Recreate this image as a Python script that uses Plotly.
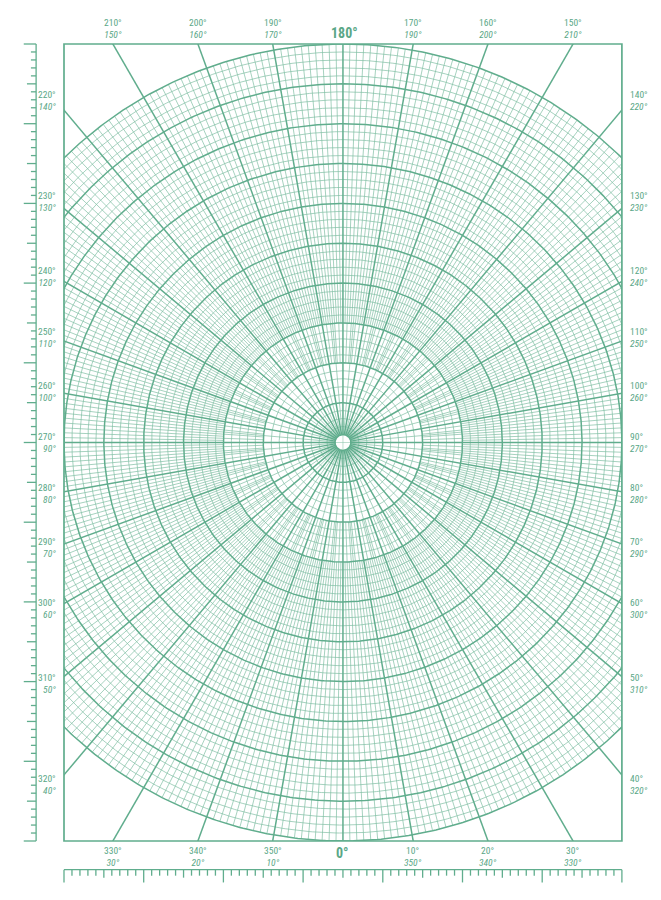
import numpy as np
import plotly.graph_objects as go

# --- grid paper values (mm) ---
MAJOR_RINGS = [5, 10, 15, 20, 25, 30, 35, 40, 45, 50]
MINOR_RING_STEP = 1
OUTER_R = 50
HUB_R = 1
# (start radius, angle step in degrees) for the spoke density zones
SPOKE_ZONES = [(1, 5), (10, 2), (15, 1)]
BOLD_SPOKE_STEP = 10
LABEL_ANGLES = [10, 20, 30, 40, 50, 60, 70, 80, 90, 100, 110, 120, 130, 140, 150, 160, 170,
                190, 200, 210, 220, 230, 240, 250, 260, 270, 280, 290, 300, 310, 320, 330, 340, 350]
LEFT_RULER_UNITS = list(range(0, 101))
BOTTOM_RULER_UNITS = list(range(0, 71))

# --- page geometry ---
W, H = 661, 900
PAGE_SHIFT = 8                # browser body margin
S = 7.97                      # px per mm
FRAME_L, FRAME_T = 64 - PAGE_SHIFT, 44 - PAGE_SHIFT   # px inside the plot div
FRAME_W, FRAME_H = 70, 100    # mm
cx_px = FRAME_L + FRAME_W / 2 * S
cy_px = FRAME_T + FRAME_H / 2 * S

BOLD = '#60ad8d'
THIN = '#7fbfa3'
TEXT = '#5aa787'


def rad(a):
    return np.radians(a)


def spokes(items):
    xs, ys = [], []
    for a, r0, r1 in items:
        t = rad(a)
        xs += [r0 * np.sin(t), r1 * np.sin(t), None]
        ys += [-r0 * np.cos(t), -r1 * np.cos(t), None]
    return xs, ys


def rings(radii):
    th = np.linspace(0, 2 * np.pi, 721)
    xs, ys = [], []
    for r in radii:
        xs += list(r * np.sin(th)) + [None]
        ys += list(r * np.cos(th)) + [None]
    return xs, ys


minor_radii = [r for r in range(HUB_R + 1, OUTER_R, MINOR_RING_STEP) if r not in MAJOR_RINGS]

thin_items = []
for a in range(360):
    if a % BOLD_SPOKE_STEP == 0:
        continue
    starts = [r0 for r0, step in SPOKE_ZONES if a % step == 0]
    if starts:
        thin_items.append((a, min(starts), OUTER_R))
bold_items = [(a, HUB_R, 90) for a in range(0, 360, BOLD_SPOKE_STEP)]
cross_items = [(a, 0, HUB_R) for a in (0, 90, 180, 270)]

fig = go.Figure()

x, y = rings(minor_radii)
fig.add_trace(go.Scatter(x=x, y=y, mode='lines', line=dict(color=THIN, width=0.7),
                         hoverinfo='skip', xaxis='x', yaxis='y'))
x, y = spokes(thin_items)
fig.add_trace(go.Scatter(x=x, y=y, mode='lines', line=dict(color=THIN, width=0.7),
                         hoverinfo='skip', xaxis='x', yaxis='y'))
x, y = spokes(cross_items)
fig.add_trace(go.Scatter(x=x, y=y, mode='lines', line=dict(color=THIN, width=0.5),
                         hoverinfo='skip', xaxis='x', yaxis='y'))
x, y = rings([HUB_R] + MAJOR_RINGS)
fig.add_trace(go.Scatter(x=x, y=y, mode='lines', line=dict(color=BOLD, width=1.5),
                         hoverinfo='skip', xaxis='x', yaxis='y'))
x, y = spokes(bold_items)
fig.add_trace(go.Scatter(x=x, y=y, mode='lines', line=dict(color=BOLD, width=1.5),
                         hoverinfo='skip', xaxis='x', yaxis='y'))

# --- rulers (page axes, mm from centre) ---
half_w, half_h = FRAME_W / 2, FRAME_H / 2
lx = -half_w - 3.5
rx, ry = [lx, lx, None], [half_h, -half_h, None]
for u in LEFT_RULER_UNITS:
    ln = 1.55 if u % 10 == 0 else (1.15 if u % 5 == 0 else 0.65)
    yy = half_h - u
    rx += [lx, lx - ln, None]
    ry += [yy, yy, None]
by = -half_h - 3.6
rx += [-half_w, half_w, None]
ry += [by, by, None]
for u in BOTTOM_RULER_UNITS:
    ln = 1.6 if u % 10 == 0 else (1.0 if u % 5 == 0 else 0.75)
    xx = -half_w + u
    rx += [xx, xx, None]
    ry += [by, by - ln, None]
fig.add_trace(go.Scatter(x=rx, y=ry, mode='lines', line=dict(color=BOLD, width=1.3),
                         hoverinfo='skip', xaxis='x2', yaxis='y2'))

fig.add_shape(type='rect', xref='x2', yref='y2', x0=-half_w, x1=half_w, y0=-half_h, y1=half_h,
              line=dict(color=BOLD, width=1.7))

# --- angle labels ---
font = dict(family='Liberation Sans Narrow, Roboto Condensed, DejaVu Sans Condensed, Roboto',
            size=9.5, color=TEXT)
for a in LABEL_ANGLES:
    t = rad(a)
    dx, dy = np.sin(t), -np.cos(t)
    tx = half_w / abs(dx) if abs(dx) > 1e-9 else 1e9
    ty = half_h / abs(dy) if abs(dy) > 1e-9 else 1e9
    txt = '%d°<br><i>%d°</i>' % (a, (360 - a) % 360)
    if tx < ty:
        hy = dy * tx
        yy = hy * 1.03
        if dx < 0:
            fig.add_annotation(x=-half_w - 0.75, y=yy, text=txt, xanchor='right', yanchor='middle',
                               align='right', xref='x2', yref='y2', showarrow=False, font=font)
        else:
            fig.add_annotation(x=half_w + 0.75, y=yy, text=txt, xanchor='left', yanchor='middle',
                               align='left', xref='x2', yref='y2', showarrow=False, font=font)
    else:
        hx = dx * ty
        if dy > 0:
            fig.add_annotation(x=hx, y=half_h + 0.3, text=txt, xanchor='center', yanchor='bottom',
                               xref='x2', yref='y2', showarrow=False, font=font)
        else:
            fig.add_annotation(x=hx, y=-half_h - 0.3, text=txt, xanchor='center', yanchor='top',
                               xref='x2', yref='y2', showarrow=False, font=font)

big = dict(family='Liberation Sans Narrow, Roboto Condensed, DejaVu Sans Condensed, Roboto',
           size=14, color=TEXT)
fig.add_annotation(x=0.2, y=half_h + 1.4, text='<b>180°</b>', xref='x2', yref='y2',
                   showarrow=False, font=big, yanchor='middle')
fig.add_annotation(x=0, y=-half_h - 1.5, text='<b>0°</b>', xref='x2', yref='y2',
                   showarrow=False, font=big, yanchor='middle')

ax = dict(visible=False, fixedrange=True, showgrid=False, zeroline=False)
fig.update_layout(
    width=W, height=H, margin=dict(l=0, r=0, t=0, b=0),
    paper_bgcolor='white', plot_bgcolor='rgba(0,0,0,0)', showlegend=False,
    xaxis=dict(ax, range=[-half_w, half_w],
               domain=[FRAME_L / W, (FRAME_L + FRAME_W * S) / W]),
    yaxis=dict(ax, range=[-half_h, half_h],
               domain=[1 - (FRAME_T + FRAME_H * S) / H, 1 - FRAME_T / H]),
    xaxis2=dict(ax, range=[-cx_px / S, (W - cx_px) / S], domain=[0, 1], anchor='y2'),
    yaxis2=dict(ax, range=[-(H - cy_px) / S, cy_px / S], domain=[0, 1], anchor='x2'),
)

fig.write_html("out.html")
